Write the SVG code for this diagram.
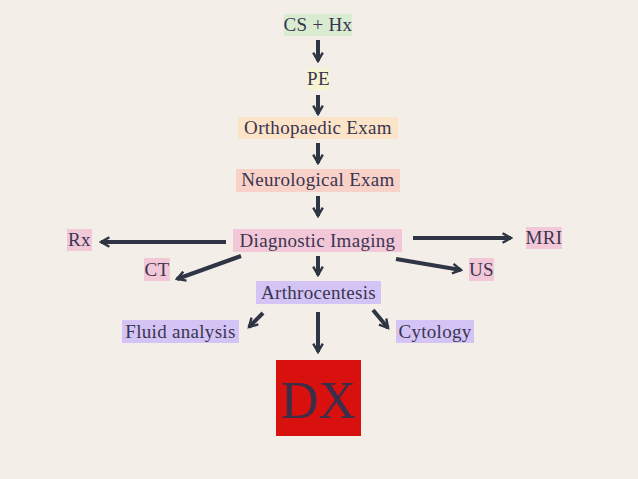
<svg xmlns="http://www.w3.org/2000/svg" width="638" height="479" viewBox="0 0 638 479">
<style>
text{font-family:"Liberation Serif","DejaVu Serif",serif;font-size:19px;fill:#3a3550;text-anchor:middle;letter-spacing:0.3px}
.c line{stroke:#2f3545;stroke-width:4;marker-end:url(#a)}
</style>
<defs><marker id="a" viewBox="0 0 10 10" refX="8" refY="5" markerWidth="3" markerHeight="3" orient="auto" markerUnits="strokeWidth"><path d="M1,1 L8,5 L1,9" fill="none" stroke="#2f3545" stroke-width="2"/></marker></defs>
<rect width="638" height="479" fill="#f3efe8"/>
<g id="n1"><rect x="284" y="14" width="68" height="22" fill="#d9ecd2"/><text x="318" y="31">CS + Hx</text></g>
<g id="n2"><rect x="307" y="68" width="23" height="22" fill="#f6f4d2"/><text x="318.5" y="85">PE</text></g>
<g id="n3"><rect x="238" y="117" width="160" height="22" fill="#fbe4c8"/><text x="318" y="134">Orthopaedic Exam</text></g>
<g id="n4"><rect x="236" y="169" width="164" height="23" fill="#f8d2c9"/><text x="318" y="186">Neurological Exam</text></g>
<g id="n5"><rect x="233" y="229" width="169" height="23" fill="#f2c8d8"/><text x="317.5" y="247">Diagnostic Imaging</text></g>
<g id="n6"><rect x="67" y="229" width="25" height="22" fill="#f2c8d8"/><text x="79.5" y="246">Rx</text></g>
<g id="n7"><rect x="526" y="227" width="36" height="22" fill="#f2c8d8"/><text x="544" y="244">MRI</text></g>
<g id="n8"><rect x="144" y="258" width="26" height="23" fill="#f2c8d8"/><text x="157" y="276">CT</text></g>
<g id="n9"><rect x="469" y="258" width="25" height="23" fill="#f2c8d8"/><text x="481.5" y="276">US</text></g>
<g id="n10"><rect x="256" y="281" width="125" height="23" fill="#d4c4f5"/><text x="318.5" y="299">Arthrocentesis</text></g>
<g id="n11"><rect x="122" y="320" width="117" height="23" fill="#d4c4f5"/><text x="180.5" y="338">Fluid analysis</text></g>
<g id="n12"><rect x="396" y="320" width="78" height="23" fill="#d4c4f5"/><text x="435" y="338">Cytology</text></g>
<g id="n13"><rect x="276" y="360" width="85" height="76" fill="#d8100e"/><text x="318.5" y="418" style="font-size:52px;fill:#3a2f4a;letter-spacing:0">DX</text></g>
<g class="c">
<line x1="318" y1="40" x2="318" y2="61"/>
<line x1="318" y1="95" x2="318" y2="114"/>
<line x1="318" y1="143" x2="318" y2="163"/>
<line x1="318" y1="196" x2="318" y2="216"/>
<line x1="226" y1="242" x2="101" y2="242"/>
<line x1="413" y1="238" x2="511" y2="238"/>
<line x1="241" y1="256" x2="177" y2="279"/>
<line x1="396" y1="259" x2="461" y2="270"/>
<line x1="318" y1="256" x2="318" y2="275"/>
<line x1="263" y1="313" x2="249" y2="327"/>
<line x1="373" y1="310" x2="388" y2="328"/>
<line x1="318" y1="312" x2="318" y2="352"/>
</g>
</svg>
